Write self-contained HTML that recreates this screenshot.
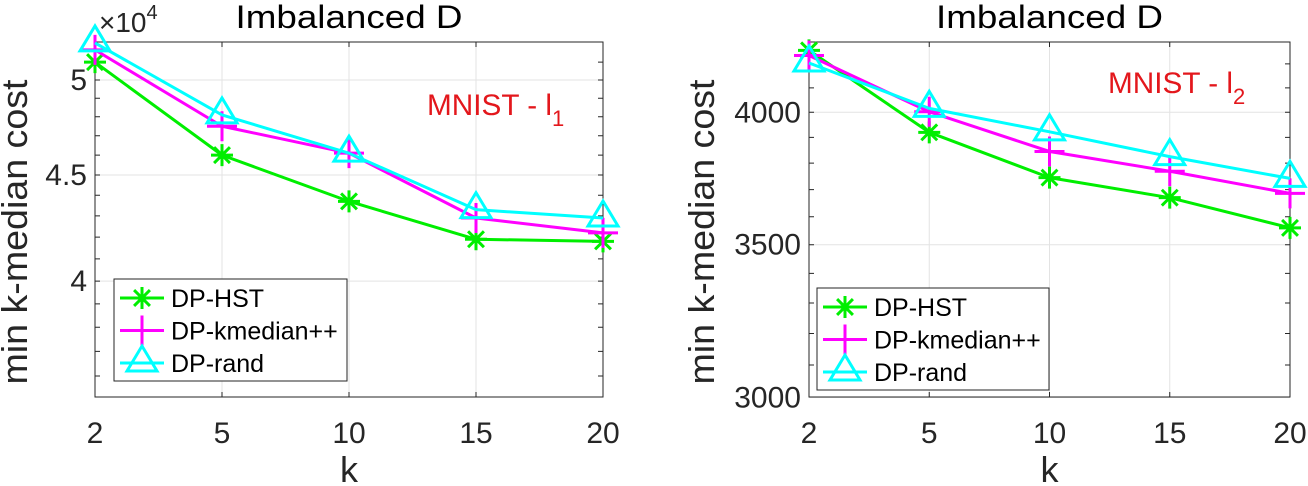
<!DOCTYPE html>
<html><head><meta charset="utf-8"><style>
html,body{margin:0;padding:0;background:#fff;}
svg{display:block;font-family:"Liberation Sans",sans-serif;}
</style></head><body>
<svg id="chart" width="1308" height="486" viewBox="0 0 1308 486" xmlns="http://www.w3.org/2000/svg"></svg>
<script>
const categories = [2, 5, 10, 15, 20];
const seriesNames = ["DP-HST", "DP-kmedian++", "DP-rand"];
const leftHST = [5.10, 4.60, 4.37, 4.19, 4.18];
const leftKmed = [5.17, 4.75, 4.61, 4.29, 4.22];
const leftRand = [5.21, 4.81, 4.61, 4.33, 4.29];
const rightHST = [4258, 3920, 3745, 3670, 3560];
const rightKmed = [4236, 4002, 3845, 3769, 3686];
const rightRand = [4204, 4016, 3922, 3825, 3742];
const leftTicks = [4, 4.5, 5];
const leftTickLabels = ["4", "4.5", "5"];
const leftMinor = [3.6, 3.7, 3.8, 3.9, 4.1, 4.2, 4.3, 4.4, 4.6, 4.7, 4.8, 4.9, 5.1];
const rightTicks = [3000, 3500, 4000];
const rightTickLabels = ["3000", "3500", "4000"];
const rightMinor = [3100, 3200, 3300, 3400, 3600, 3700, 3800, 3900, 4100, 4200];

const NS = "http://www.w3.org/2000/svg";
const svg = document.getElementById("chart");
function mk(tag, attrs, parent, text) {
  const e = document.createElementNS(NS, tag);
  for (const k in attrs) e.setAttribute(k, attrs[k]);
  if (text !== undefined) e.textContent = text;
  (parent || svg).appendChild(e);
  return e;
}
const colors = ["#00ee00", "#ff00ff", "#00ffff"];

function marker(g, kind, x, y, color) {
  if (kind === 0) {
    const s = 11;
    const p = mk("path", {d: `M${x-s} ${y}H${x+s}M${x} ${y-s}V${y+s}M${x-s*0.72} ${y-s*0.72}L${x+s*0.72} ${y+s*0.72}M${x-s*0.72} ${y+s*0.72}L${x+s*0.72} ${y-s*0.72}`, stroke: color, "stroke-width": 3, fill: "none"}, g);
    
    
  } else if (kind === 1) {
    const s = 15;
    const p = mk("path", {d: `M${x-s} ${y}H${x+s}M${x} ${y-s}V${y+s}`, stroke: color, "stroke-width": 3, fill: "none"}, g);
    
    
  } else {
    const p = mk("path", {d: `M${x} ${y-17}L${x+15} ${y+8}L${x-15} ${y+8}Z`, stroke: color, "stroke-width": 3, fill: "none"}, g);
    
    
  }
}

function panel(opt) {
  const g = mk("g", {});
  
  
  const L = opt.left, R = opt.right, T = 42, B = 397;
  const xs = i => L + (R - L) * i / (categories.length - 1);
  const ys = v => opt.y0 - (Math.log10(v) - Math.log10(opt.v0)) * opt.ppl;
  categories.forEach((c, i) => {
    const l = mk("line", {x1: xs(i), x2: xs(i), y1: T, y2: B, stroke: "#e3e3e3", "stroke-width": 1}, g);
    
    
  });
  opt.ticks.forEach(v => {
    const l = mk("line", {x1: L, x2: R, y1: ys(v), y2: ys(v), stroke: "#e3e3e3", "stroke-width": 1}, g);
    
    
  });
  const box = mk("rect", {x: L, y: T, width: R - L, height: B - T, fill: "none", stroke: "#262626", "stroke-width": 1}, g);
  
  
  opt.ticks.concat(opt.minor).forEach(v => {
    const y = ys(v);
    if (y < T - 0.5 || y > B + 0.5) return;
    const t = mk("path", {d: `M${L} ${y}h5M${R} ${y}h-5`, stroke: "#262626", "stroke-width": 1}, g);
    
    
  });
  categories.forEach((c, i) => {
    const t = mk("path", {d: `M${xs(i)} ${B}v-5M${xs(i)} ${T}v5`, stroke: "#262626", "stroke-width": 1}, g);
    
    
    const lab = mk("text", {x: xs(i), y: 443, "text-anchor": "middle", "font-size": 30, fill: "#262626"}, g, String(c));
    
    
  });
  opt.ticks.forEach((v, i) => {
    const lab = mk("text", {x: L - 8, y: ys(v) + 10, "text-anchor": "end", "font-size": 30, fill: "#262626"}, g, opt.tickLabels[i]);
    
    
  });
  opt.series.forEach((arr, s) => {
    const pts = arr.map((v, i) => `${xs(i)},${ys(v)}`).join(" ");
    const pl = mk("polyline", {points: pts, fill: "none", stroke: colors[s], "stroke-width": 3, "stroke-linejoin": "round"}, g);
    
    
    arr.forEach((v, i) => marker(g, s, xs(i), ys(v), colors[s]));
  });
  const ttl = mk("text", {x: (L + R) / 2, y: 28, "text-anchor": "middle", "font-size": 32, textLength: 227, lengthAdjust: "spacingAndGlyphs", fill: "#000"}, g, "Imbalanced D");
  
  
  const xl = mk("text", {x: (L + R) / 2, y: 482, "text-anchor": "middle", "font-size": 36, fill: "#262626"}, g, "k");
  
  
  const yl = mk("text", {transform: `translate(${opt.ylx},232) rotate(-90)`, "text-anchor": "middle", "font-size": 36, textLength: 305, lengthAdjust: "spacingAndGlyphs", fill: "#262626"}, g, "min k-median cost");
  
  
  const an = mk("text", {x: opt.annX, y: opt.annY, "font-size": 30, fill: "#e3171c"}, g);
  
  
  mk("tspan", {textLength: 125, lengthAdjust: "spacingAndGlyphs"}, an, opt.ann);
  mk("tspan", {"font-size": 22, dy: 11}, an, opt.sub);
  const lg = mk("g", {}, g);
  
  
  mk("rect", {x: opt.lgX, y: opt.lgY, width: opt.lgW, height: 102, fill: "#fff", stroke: "#262626", "stroke-width": 1}, lg);
  seriesNames.forEach((n, s) => {
    const ey = opt.lgY + 19 + s * 32.5;
    const e = mk("g", {}, lg);
    
    
    mk("line", {x1: opt.lgX + 6, x2: opt.lgX + 50, y1: ey, y2: ey, stroke: colors[s], "stroke-width": 3}, e);
    marker(e, s, opt.lgX + 28, ey, colors[s]);
    mk("text", {x: opt.lgX + 57, y: ey + 9, "font-size": 25, fill: "#000"}, e, n);
  });
  return g;
}

panel({name: "left-panel", left: 95, right: 603, y0: 80, v0: 5, ppl: 2075,
  ticks: leftTicks, tickLabels: leftTickLabels, minor: leftMinor,
  series: [leftHST, leftKmed, leftRand], ylx: 27,
  ann: "MNIST - l", sub: "1", annX: 427, annY: 115,
  lgX: 114, lgY: 279, lgW: 233});
panel({name: "right-panel", left: 809, right: 1290, y0: 112.3, v0: 4000, ppl: 2283,
  ticks: rightTicks, tickLabels: rightTickLabels, minor: rightMinor,
  series: [rightHST, rightKmed, rightRand], ylx: 714,
  ann: "MNIST - l", sub: "2", annX: 1108, annY: 93,
  lgX: 817, lgY: 288, lgW: 232});

const ex = mk("text", {x: 99, y: 32, "font-size": 28, fill: "#262626"}, svg, "×10");


mk("tspan", {"font-size": 20, dy: -13}, ex, "4");
</script>
</body></html>
